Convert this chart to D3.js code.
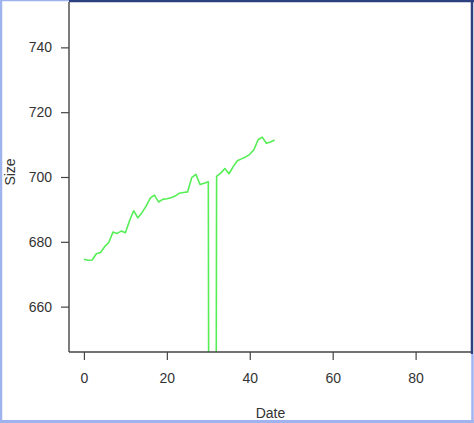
<!DOCTYPE html>
<html>
<head>
<meta charset="utf-8">
<script src="https://cdn.jsdelivr.net/npm/d3@7"></script>
<style>
html,body{margin:0;padding:0;background:#fff;}
svg{display:block;}
text{font-family:"Liberation Sans",Arial,sans-serif;fill:#333;}
</style>
</head>
<body>
<svg id="chart" width="474" height="423"></svg>
<script>
// Data (Date = day index, Size = value)
const dates = [0,1,2,3,4,5,6,7,8,9,10,11,12,13,14,15,16,17,18,19,20,21,22,23,24,25,26,27,28,29,30,31,32,33,34,35,36,37,38,39,40,41,42,43,44,45,46];
const sizes = [674.6,674.3,674.4,676.3,676.7,678.5,679.8,683.0,682.6,683.3,682.8,686.5,689.6,687.4,689.0,691.0,693.5,694.4,692.3,693.1,693.3,693.6,694.1,695.0,695.2,695.4,699.8,700.8,697.7,698.1,698.5,0,700.2,701.2,702.6,701.0,703.2,705.0,705.6,706.2,707.0,708.4,711.5,712.3,710.4,710.8,711.4];
const xTicks = [0,20,40,60,80];
const yTicks = [660,680,700,720,740];
const xDomain = [0,90];
const yDomain = [650,750];
const xLabel = "Date";
const yLabel = "Size";

const svg = d3.select("#chart");
const W = 474, H = 423;
const box = {left:69, right:472, top:2, bottom:352};

// R-style 4% axis padding
const pad = (d)=>{const r=d[1]-d[0];return [d[0]-0.04*r, d[1]+0.04*r];};
const x = d3.scaleLinear().domain(pad(xDomain)).range([box.left, box.right]);
const y = d3.scaleLinear().domain(pad(yDomain)).range([box.bottom, box.top]);

svg.append("rect").attr("x",0).attr("y",0).attr("width",W).attr("height",H).attr("fill","#fff");

// clip for the line
svg.append("clipPath").attr("id","clip").append("rect")
  .attr("x",box.left).attr("y",box.top).attr("width",box.right-box.left).attr("height",box.bottom-box.top);

const pts = dates.map((d,i)=>[d,sizes[i]]);
svg.append("path").datum(pts)
  .attr("clip-path","url(#clip)")
  .attr("fill","none").attr("stroke","#55ee55").attr("stroke-width",1.6)
  .attr("stroke-linejoin","round")
  .attr("d", d3.line().x(d=>x(d[0])).y(d=>y(d[1])));

// axes
const xAxis = d3.axisBottom(x).tickValues(xTicks).tickSize(8).tickPadding(10).tickSizeOuter(0);
const gx = svg.append("g").attr("transform",`translate(0,${box.bottom})`).call(xAxis);
gx.select(".domain").remove();
gx.selectAll(".tick line").attr("stroke","#444").attr("stroke-width",1.2);
gx.selectAll(".tick text").attr("font-size",14).attr("fill","#333").attr("dy","0.9em");

const yAxis = d3.axisLeft(y).tickValues(yTicks).tickSize(8).tickPadding(9).tickSizeOuter(0);
const gy = svg.append("g").attr("transform",`translate(${box.left},0)`).call(yAxis);
gy.select(".domain").remove();
gy.selectAll(".tick line").attr("stroke","#444").attr("stroke-width",1.2);
gy.selectAll(".tick text").attr("font-size",14).attr("fill","#333");

// plot box: left & bottom gray, top & right dark blue
svg.append("line").attr("x1",box.left).attr("x2",box.left).attr("y1",box.top).attr("y2",box.bottom).attr("stroke","#444").attr("stroke-width",1.4);
svg.append("line").attr("x1",box.left).attr("x2",box.right).attr("y1",box.bottom).attr("y2",box.bottom).attr("stroke","#444").attr("stroke-width",1.4);
svg.append("line").attr("x1",box.left).attr("x2",W).attr("y1",1).attr("y2",1).attr("stroke","#2d4180").attr("stroke-width",2.5);
svg.append("line").attr("x1",472).attr("x2",472).attr("y1",0).attr("y2",box.bottom+2).attr("stroke","#2d4180").attr("stroke-width",2.5);

// outer frame (light blue) left, bottom, top-left, lower right
svg.append("line").attr("x1",1).attr("x2",1).attr("y1",0).attr("y2",H).attr("stroke","#9fb3ee").attr("stroke-width",2.5);
svg.append("line").attr("x1",0).attr("x2",W).attr("y1",H-1.5).attr("y2",H-1.5).attr("stroke","#9fb3ee").attr("stroke-width",3);
svg.append("line").attr("x1",0).attr("x2",box.left).attr("y1",0.5).attr("y2",0.5).attr("stroke","#9fb3ee").attr("stroke-width",1.5);
svg.append("line").attr("x1",472.5).attr("x2",472.5).attr("y1",box.bottom+2).attr("y2",H).attr("stroke","#9fb3ee").attr("stroke-width",2.5);

// axis titles
svg.append("text").attr("x",(box.left+box.right)/2).attr("y",418).attr("text-anchor","middle").attr("font-size",14).text(xLabel);
svg.append("text").attr("transform","translate(15,172) rotate(-90)").attr("text-anchor","middle").attr("font-size",14).text(yLabel);
</script>
</body>
</html>
